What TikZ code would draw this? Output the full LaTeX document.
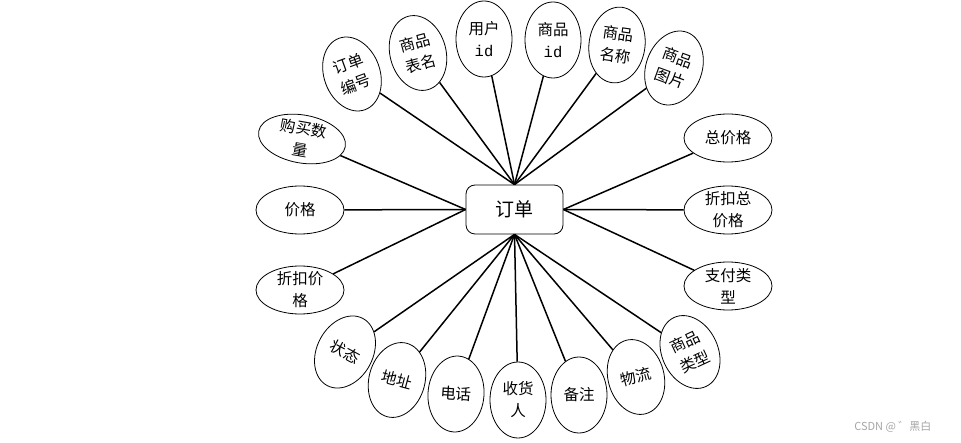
\documentclass[tikz,border=0pt]{standalone}
\usepackage{fontspec}
\setmainfont{Noto Sans CJK SC}
\newfontfamily\monof{Liberation Mono}
\usetikzlibrary{shapes.geometric}
\begin{document}
\begin{tikzpicture}[x=1pt,y=-1pt,
 attr/.style={draw, ellipse, inner sep=-8pt, align=center, font=\fontsize{15.5}{22}\selectfont, line width=0.8pt},
 tall/.style={attr, minimum width=56, minimum height=76},
 wide/.style={attr, minimum width=88, minimum height=48},
 link/.style={line width=1.5pt}]
\useasboundingbox (0,0) rectangle (961,443);
\node[draw, rounded corners=9pt, minimum width=97, minimum height=49, line width=0.8pt, font=\fontsize{19}{22}\selectfont] (r) at (514.5,209.5) {订单};
% top
\node[tall, rotate=20] (a1) at (352,74) {订单\\编号};
\node[tall, rotate=15] (a2) at (418,53) {商品\\表名};
\node[tall] (a3) at (484,39) {用户\\{\monof id}};
\node[tall] (a4) at (553,40) {商品\\{\monof id}};
\node[tall, rotate=-8] (a5) at (617,45) {商品\\名称};
\node[tall, rotate=-20] (a6) at (674,68) {商品\\图片};
% left
\node[wide, rotate=-10] (b1) at (302,139) {购买数\\量};
\node[wide] (b2) at (300,210) {价格};
\node[wide] (b3) at (300,290) {折扣价\\格};
% right
\node[wide] (c1) at (728,138) {总价格};
\node[wide] (c2) at (728,210) {折扣总\\价格};
\node[wide] (c3) at (728,286) {支付类\\型};
% bottom
\node[tall, rotate=-28] (d1) at (345,352) {状态};
\node[tall, rotate=-15] (d2) at (397,380) {地址};
\node[tall, rotate=-4] (d3) at (456,394) {电话};
\node[tall] (d4) at (518,400) {收货\\人};
\node[tall] (d5) at (579,395) {备注};
\node[tall, rotate=15] (d6) at (636,377) {物流};
\node[tall, rotate=25] (d7) at (690,352) {商品\\类型};
% connectors
\foreach \n in {a1,a2,a3,a4,a5,a6} \draw[link] (\n) -- (r.north);
\foreach \n in {b1,b2,b3} \draw[link] (\n) -- (r.west);
\foreach \n in {c1,c2,c3} \draw[link] (\n) -- (r.east);
\foreach \n in {d1,d2,d3,d4,d5,d6,d7} \draw[link] (\n) -- (r.south);
\node[font=\fontsize{11}{13}\selectfont, text=gray!70, anchor=east] (wm) at (935,427) {CSDN @ ゛黑白};
\end{tikzpicture}
\end{document}
